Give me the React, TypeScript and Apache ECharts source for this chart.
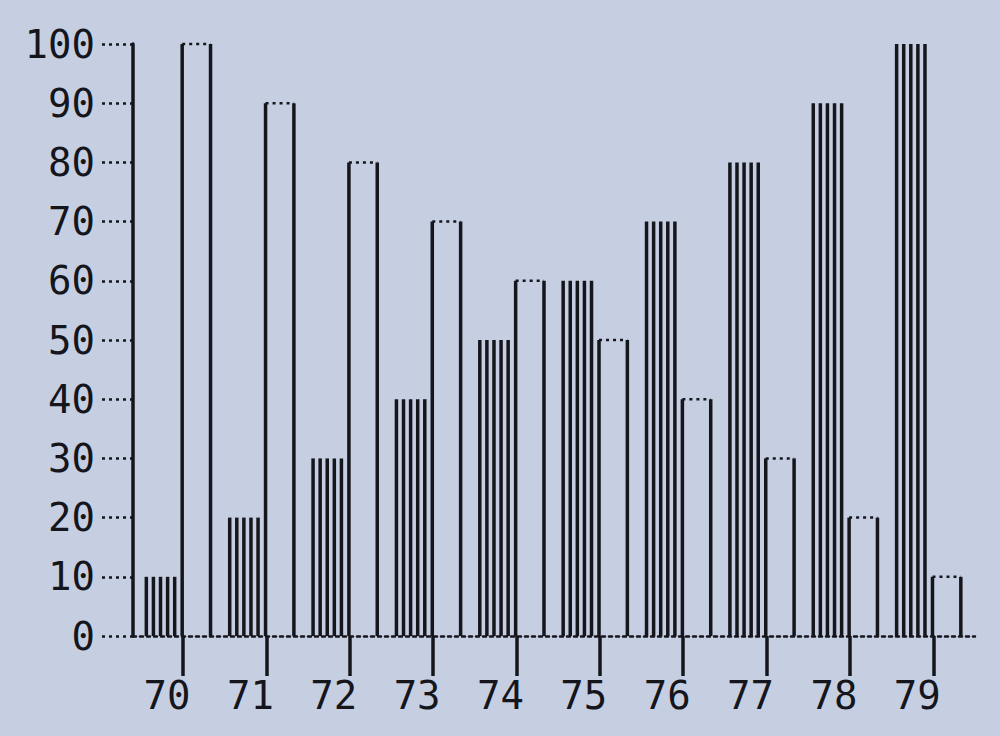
import React, { useEffect, useRef } from "react";
import * as echarts from "echarts";

const years = [70, 71, 72, 73, 74, 75, 76, 77, 78, 79];
const hatchedValues = [10, 20, 30, 40, 50, 60, 70, 80, 90, 100];
const openValues = [100, 90, 80, 70, 60, 50, 40, 30, 20, 10];

const INK = "#15151c";
const BG = "#c6cfe2";
const FONT = "DejaVu Sans Mono";

export default function App() {
  const ref = useRef<HTMLDivElement>(null);

  useEffect(() => {
    const chart = echarts.init(ref.current as HTMLDivElement, null, { renderer: "svg" });
    const hatchedData = years.map((y, i) => [y, hatchedValues[i]]);
    const openData = years.map((y, i) => [y, openValues[i]]);

    const hatchedRender = (params: any, api: any) => {
      const x = api.value(0) as number;
      const v = api.value(1) as number;
      const p0 = api.coord([x, 0]);
      const p1 = api.coord([x, v]);
      const unit = api.size([1, 0])[0];
      const left = p0[0] - 0.44 * unit;
      const right = p0[0] - 0.1 * unit;
      const n = 5;
      const children: any[] = [];
      for (let k = 0; k < n; k++) {
        const xk = left + ((right - left) * k) / (n - 1);
        children.push({
          type: "line",
          shape: { x1: xk, y1: p0[1], x2: xk, y2: p1[1] },
          style: { stroke: INK, lineWidth: 3.5 },
        });
      }
      return { type: "group", children };
    };

    const openRender = (params: any, api: any) => {
      const x = api.value(0) as number;
      const v = api.value(1) as number;
      const p0 = api.coord([x, 0]);
      const p1 = api.coord([x, v]);
      const unit = api.size([1, 0])[0];
      const left = p0[0] - 0.01 * unit;
      const right = p0[0] + 0.33 * unit;
      return {
        type: "group",
        children: [
          {
            type: "line",
            shape: { x1: left, y1: p0[1], x2: left, y2: p1[1] },
            style: { stroke: INK, lineWidth: 3.5 },
          },
          {
            type: "line",
            shape: { x1: right, y1: p0[1], x2: right, y2: p1[1] },
            style: { stroke: INK, lineWidth: 3.5 },
          },
          {
            type: "line",
            shape: { x1: left, y1: p1[1], x2: right, y2: p1[1] },
            style: { stroke: INK, lineWidth: 2.5, lineDash: [3, 4] },
          },
        ],
      };
    };

    chart.setOption({
      animation: false,
      backgroundColor: BG,
      textStyle: { fontFamily: FONT, color: INK },
      grid: { left: 133, right: 25, top: 44, bottom: 100 },
      xAxis: {
        type: "value",
        min: 69.4,
        max: 79.5,
        splitLine: { show: false },
        axisLine: {
          show: true,
          onZero: true,
          lineStyle: { color: INK, width: 2.5, type: [3, 4] },
        },
        axisTick: {
          show: true,
          length: 40,
          customValues: years,
          lineStyle: { color: INK, width: 3.5 },
        },
        axisLabel: {
          show: true,
          customValues: years,
          margin: 40,
          color: INK,
          fontFamily: FONT,
          fontSize: 39,
          padding: [0, 32, 0, 0],
          formatter: (v: number) => String(Math.round(v)),
        },
      },
      yAxis: {
        type: "value",
        min: 0,
        max: 100,
        interval: 10,
        splitLine: { show: false },
        axisLine: { show: true, lineStyle: { color: INK, width: 3.5 } },
        axisTick: {
          show: true,
          length: 35,
          lineStyle: { color: INK, width: 2.5, type: [3, 4] },
        },
        axisLabel: {
          margin: 38,
          color: INK,
          fontFamily: FONT,
          fontSize: 39,
        },
      },
      series: [
        {
          name: "hatched",
          type: "custom",
          renderItem: hatchedRender,
          data: hatchedData,
          clip: false,
        },
        {
          name: "open",
          type: "custom",
          renderItem: openRender,
          data: openData,
          clip: false,
        },
      ],
    });

    return () => chart.dispose();
  }, []);

  return (
    <div
      ref={ref}
      style={{ position: "absolute", left: 0, top: 0, width: 1000, height: 736, background: BG }}
    />
  );
}
